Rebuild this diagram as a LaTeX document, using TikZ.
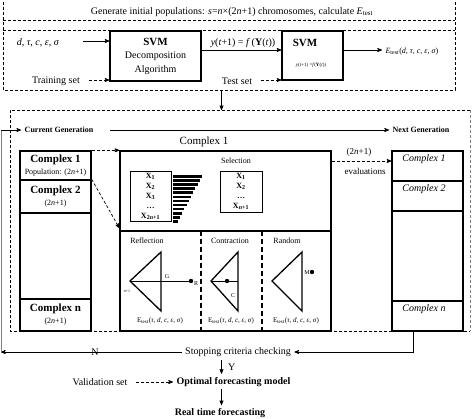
\documentclass[tikz,border=0pt]{standalone}
\usepackage{fontspec}
\setmainfont{Liberation Serif}
\usetikzlibrary{arrows,positioning,calc}

\begin{document}
\begin{tikzpicture}
  [
  x=1pt, y=-1pt,
  font=\fontsize{10}{12}\selectfont,
  line width=0.7pt,
  draw=black, >=stealth',
  dashline/.style={dash pattern=on 3pt off 2pt},
  dasharrow/.style={->, dash pattern=on 3pt off 2pt},
  svmbox/.style={draw, line width=1.3pt, inner sep=0pt, align=center},
  cxbox/.style={draw, line width=1.4pt, inner sep=0pt, minimum width=71, align=center},
  listbox/.style={draw, line width=1pt, inner sep=0pt, align=center, font=\fontsize{8}{10}\selectfont\bfseries},
  smalltext/.style={font=\fontsize{8}{10}\selectfont},
  tinytext/.style={font=\fontsize{7}{8}\selectfont},
  boldlabel/.style={font=\fontsize{11}{12}\selectfont\bfseries},
  genlabel/.style={font=\fontsize{8}{10}\selectfont\bfseries},
  ]
\useasboundingbox (0,0) rectangle (474,418);

% initial population / SVM stage
\draw[dashline] (3,-3) rectangle (455,90);
\draw[dashline] (3,20) -- (455,20);
\draw[dashline] (3,30) -- (455,30);
\node (gen) at (232,12) {Generate initial populations: \textit{s}=\textit{n}×(2\textit{n}+1) chromosomes, calculate \textit{E}\textsubscript{test}};

\node[svmbox, minimum width=91, minimum height=50, font=\fontsize{10}{13.5}\selectfont] (svmA) at (155.5,56)
  {{\fontsize{11}{13}\selectfont\bfseries SVM}\\Decomposition\\Algorithm};
\node[svmbox, minimum width=61, minimum height=49] (svmB) at (312.5,55.5) {};
\node[boldlabel] (svmBtitle) at (305,43) {SVM};
\node[font=\fontsize{5}{6}\selectfont] (svmBeq) at (311,65) {\textit{y}(\textit{t}+1) =\textit{f}(\textbf{Y}(\textit{t}))};

\node (par) at (38,43) {\textit{d}, \textit{τ}, \textit{c}, \textit{ε}, \textit{σ}};
\draw[->] ([xshift=20]par.east |- 0,41) -- (svmA.west |- 0,41);
\node (train) at (56,81) {Training set};
\draw[dasharrow] ([xshift=5]train.east |- 0,80) -- (svmA.west |- 0,80);

\node (yf) at (243,43) {\textit{y}(\textit{t}+1) = \textit{f}\,(\textbf{Y}(\textit{t}))};
\draw[->] ([yshift=6]svmA.east) -- ([yshift=6]svmA.east -| svmB.west);
\node (testset) at (237,81) {Test set};
\draw[dasharrow] ([xshift=5]testset.east |- 0,80) -- (svmB.west |- 0,80);

\node[smalltext] (etest) at (412,52) {\textit{E}\textsubscript{test}(\textit{d}, \textit{τ}, \textit{c}, \textit{ε}, \textit{σ})};
\draw[->] ([yshift=5.5]svmB.east) -- ([yshift=5.5]svmB.east -| etest.west);

\coordinate (topbot) at (221.5,90);
\coordinate (bigtop) at (221.5,110);
\draw[->] (topbot) -- (bigtop);

% evolution loop
\draw[dashline] (470,110) -- (10,110) -- (10,331) -- (470,331);
\draw[dashline, draw=gray] (470,110) -- (470,331);

\node[genlabel] (curgen) at (59,130) {Current Generation};
\node[genlabel] (nextgen) at (421,130) {Next Generation};
\draw[->] (110,130) -- (nextgen.west);

% current generation complexes
\node[cxbox, minimum height=29] (lc1) at (55.5,165.5)
  {{\fontsize{11}{12}\selectfont\bfseries Complex 1}\\{\fontsize{8}{9}\selectfont Population: (2\textit{n}+1)}};
\node[cxbox, minimum height=33] (lc2) at (55.5,196.5)
  {{\fontsize{11}{12}\selectfont\bfseries Complex 2}\\{\fontsize{8}{9}\selectfont (2\textit{n}+1)}};
\node[cxbox, minimum height=86] (lcmid) at (55.5,256) {};
\node[cxbox, minimum height=32] (lcn) at (55.5,315)
  {{\fontsize{11}{12}\selectfont\bfseries Complex n}\\{\fontsize{8}{9}\selectfont (2\textit{n}+1)}};

% complex 1 evolution
\node[font=\fontsize{11}{12}\selectfont] (cxlabel) at (204,142) {Complex 1};
\node[draw, line width=1.4pt, inner sep=0pt, minimum width=211, minimum height=180] (cx) at (225.5,241) {};
\draw[line width=1.4pt] (cx.west |- 0,231) -- (cx.east |- 0,231);
\draw[line width=1.4pt, dash pattern=on 5pt off 3pt] (201,231) -- (201,331);
\draw[line width=1.4pt, dash pattern=on 5pt off 3pt] (262,231) -- (262,331);

\draw[dasharrow] (lc1.north east) -- (cx.north west);
\draw[dasharrow] (lc2.north east) -- ([yshift=13]cx.west);

\node[smalltext] (select) at (236,161) {Selection};
\node[listbox, minimum width=41, minimum height=50] (selA) at (150.5,196)
  {X\textsubscript{1}\\X\textsubscript{2}\\X\textsubscript{3}\\…\\X\textsubscript{2\textit{n}+1}};
\foreach \i in {0,...,11}
  \fill (173,{175+4.1*\i}) rectangle ++({29-2.2*\i},2.6);
\node[listbox, minimum width=42, minimum height=41] (selB) at (241,191.5)
  {X\textsubscript{1}\\X\textsubscript{2}\\…\\X\textsubscript{\textit{n}+1}};

\node[smalltext] (reflect) at (147,241) {Reflection};
\node[smalltext] (contract) at (230,241) {Contraction};
\node[smalltext] (random) at (287,241) {Random};

\draw[line width=1.3pt] (130,281) -- (161,252) -- (161,311) -- cycle;
\draw[line width=0.4pt] (130,281) -- (191,281);
\fill (191,281) circle (2.2);
\node[font=\fontsize{6}{7}\selectfont] (ptG) at (167,277) {G};
\node[font=\fontsize{6}{7}\selectfont] (ptR) at (196,284) {R};
\node[font=\fontsize{4}{5}\selectfont] (ptn) at (127,291) {\textit{n}+1};

\draw[line width=1.3pt] (211,281) -- (238,252) -- (238,311) -- cycle;
\draw[line width=0.4pt] (211,281) -- (238,281);
\fill (227,281) circle (2.2);
\node[font=\fontsize{6}{7}\selectfont] (ptC) at (233,296) {C};

\draw[line width=1.3pt] (272,281) -- (302,252) -- (302,311) -- cycle;
\fill (312,272) circle (2.2);
\node[font=\fontsize{6}{7}\selectfont] (ptM) at (307,273) {M};

\node[tinytext] (eA) at (160,321) {E\textsubscript{test}(\textit{τ}, \textit{d}, \textit{c}, \textit{ε}, \textit{σ})};
\node[tinytext] (eB) at (231,321) {E\textsubscript{test}(\textit{τ}, \textit{d}, \textit{c}, \textit{ε}, \textit{σ})};
\node[tinytext] (eC) at (296,321) {E\textsubscript{test}(\textit{τ}, \textit{d}, \textit{c}, \textit{ε}, \textit{σ})};

% next generation complexes
\node[cxbox, minimum height=30] (rc1) at (427.5,166) {};
\node[cxbox, minimum height=30] (rc2) at (427.5,196) {};
\node[cxbox, minimum height=90] (rcmid) at (427.5,256) {};
\node[cxbox, minimum height=30] (rcn) at (427.5,316) {};
\node[font=\fontsize{10}{12}\selectfont\itshape] (rc1t) at (424,159) {Complex 1};
\node[font=\fontsize{10}{12}\selectfont\itshape] (rc2t) at (424,189) {Complex 2};
\node[font=\fontsize{10}{12}\selectfont\itshape] (rcnt) at (424,309) {Complex n};

\draw[dasharrow] ([yshift=5]rc1.west -| cx.east) -- ([yshift=5]rc1.west);
\node[font=\fontsize{9}{10}\selectfont] (evn) at (359,152) {(2\textit{n}+1)};
\node[font=\fontsize{9}{10}\selectfont] (evl) at (365,171) {evaluations};

% stopping and output
\node (stop) at (238,352) {Stopping criteria checking};
\draw[->] ([xshift=-14.5]rcn.south) |- (stop.east);
\coordinate (leftend) at (1,352);
\draw[->] (stop.west) -- node[pos=0.48, inner sep=0pt] {N} (leftend);
\draw[draw=gray] (leftend) -- (leftend |- curgen.west);
\draw[->] (leftend |- curgen.west) -- (curgen.west);

\node[font=\fontsize{10}{12}\selectfont\bfseries] (opt) at (233.5,382) {Optimal forecasting model};
\node[font=\fontsize{10}{12}\selectfont\bfseries] (rt) at (220,413) {Real time forecasting};
\draw[->] ([xshift=-16.5]stop.south) -- ([xshift=-16.5]stop.south |- opt.north)
  node[midway, right=3pt] {Y};
\node (val) at (100,382) {Validation set};
\draw[dasharrow] ([xshift=5]val.east) -- (opt.west);
\coordinate (optdown) at (221.5,389);
\coordinate (rtup) at (221.5,405);
\draw[->] (optdown) -- (rtup);
\end{tikzpicture}
\end{document}
